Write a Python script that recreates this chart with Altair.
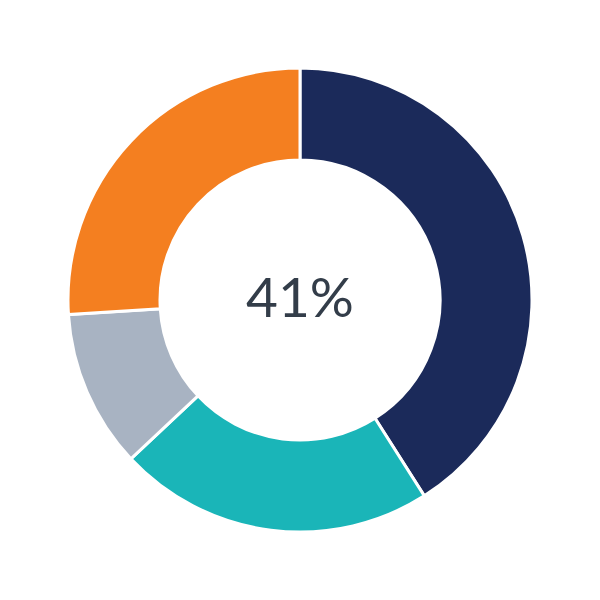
import altair as alt
import pandas as pd

categories = ["A", "B", "C", "D"]
values = [41, 22, 11, 26]
colors = ["#1b2a5a", "#1ab5b8", "#a8b3c2", "#f47f20"]
center_label = "41%"

df = pd.DataFrame({"category": categories, "value": values, "order": list(range(len(values)))})

base = alt.Chart(df)
arcs = base.mark_arc(outerRadius=232, innerRadius=140, stroke="white", strokeWidth=3).encode(
    theta=alt.Theta("value:Q", stack=True),
    order=alt.Order("order:Q"),
    color=alt.Color("category:N", scale=alt.Scale(domain=categories, range=colors), legend=None),
)

text = alt.Chart(pd.DataFrame({"t": [center_label]})).mark_text(
    font="Lato", fontSize=55, color="#333d49", align="center", baseline="middle"
).encode(text="t:N")

chart = (arcs + text).properties(width=584, height=584, padding=0, autosize=alt.AutoSizeParams(type="none")).configure_view(stroke=None)

chart.save("out.html", embed_options={"renderer": "svg", "actions": False})
